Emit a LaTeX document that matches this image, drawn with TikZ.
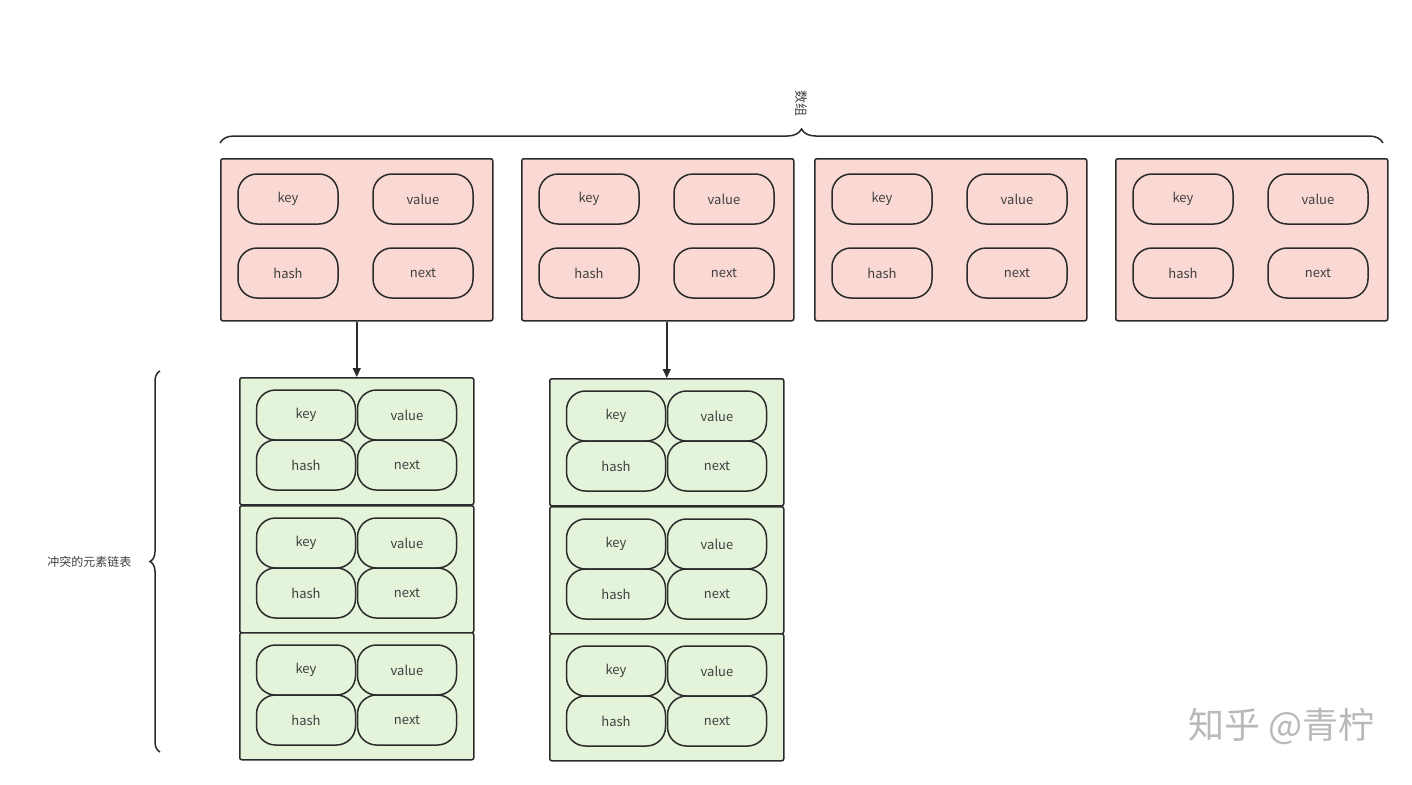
\documentclass[tikz,border=0pt]{standalone}
\usepackage{fontspec}
\setmainfont{Noto Sans CJK SC}
\usetikzlibrary{decorations.pathreplacing,arrows.meta}
\definecolor{pinkf}{HTML}{FAD9D5}
\definecolor{greenf}{HTML}{E4F4DA}
\definecolor{strk}{HTML}{2B2B2B}
\begin{document}
\begin{tikzpicture}[x=1pt,y=-1pt,
  box/.style={draw=strk,line width=1.5pt,rounded corners=2pt},
  pill/.style={draw=strk,line width=1.5pt,rounded corners=19pt,minimum width=100pt,minimum height=50pt,inner sep=0pt,font=\fontsize{13}{13}\selectfont,text=strk!90},
  lbl/.style={font=\fontsize{13}{13}\selectfont,text=strk!90},
  conn/.style={draw=strk,line width=1.5pt,-{Triangle[length=9pt,width=8pt]}},
  brc/.style={draw=strk,line width=1.5pt,decorate}]
\useasboundingbox (0,0) rectangle (1412,784);
% top array
\foreach \i/\x in {1/220,2/521,3/814,4/1115}{
  \node[box,fill=pinkf,minimum width=272pt,minimum height=162pt,anchor=north west,inner sep=0pt] (t\i) at (\x,158) {};
  \node[pill,fill=pinkf] (t\i k) at (\x+68,199) {key};
  \node[pill,fill=pinkf] (t\i v) at (\x+203,199) {value};
  \node[pill,fill=pinkf] (t\i h) at (\x+68,273) {hash};
  \node[pill,fill=pinkf] (t\i n) at (\x+203,273) {next};
}
% lower lists
\foreach \c/\x/\ya/\yb/\yc in {1/239/377/505/632,2/549/378/506/633}{
  \foreach \r/\y in {1/\ya,2/\yb,3/\yc}{
    \node[box,fill=greenf,minimum width=234pt,minimum height=127pt,anchor=north west,inner sep=0pt] (g\c\r) at (\x,\y) {};
    \node[pill,fill=greenf,minimum width=99pt] (g\c\r k) at (\x+67,\y+38) {key};
    \node[pill,fill=greenf,minimum width=99pt] (g\c\r v) at (\x+168,\y+38) {value};
    \node[pill,fill=greenf,minimum width=99pt] (g\c\r h) at (\x+67,\y+88) {hash};
    \node[pill,fill=greenf,minimum width=99pt] (g\c\r n) at (\x+168,\y+88) {next};
  }
}
\draw[conn] (t1.south -| g11.north) -- (g11.north);
\draw[conn] (t2.south -| g21.north) -- (g21.north);
% braces
\coordinate (ba) at (220,143);
\coordinate (bb) at (1383,143);
\draw[brc,decoration={brace,amplitude=14pt}] (ba) -- (bb);
\node[lbl,rotate=-90] (arr) at (801,103) {数组};
\coordinate (la) at (160,752);
\coordinate (lb) at (160,371);
\draw[brc,decoration={brace,amplitude=10pt}] (la) -- (lb);
\node[lbl,anchor=east,font=\fontsize{12}{12}\selectfont] (chain) at (135,562) {冲突的元素链表};
\node[text=gray!55,font=\fontsize{36}{36}\selectfont,anchor=east] (wm) at (1378,726) {知乎 @青柠};
\end{tikzpicture}
\end{document}
